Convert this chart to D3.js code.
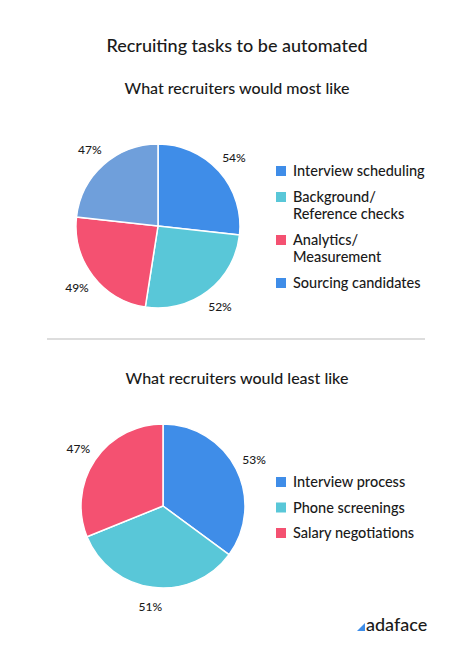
<!DOCTYPE html>
<html><head><meta charset="utf-8">
<script src="https://cdn.jsdelivr.net/npm/d3@7"></script>
<style>body{margin:0;background:#fff}text{font-family:Lato,"Open Sans",sans-serif;fill:#1a1a1a;font-weight:500}</style>
</head><body><svg id="c" width="474" height="649"></svg>
<script>
const topCats=["Interview scheduling","Background/\nReference checks","Analytics/\nMeasurement","Sourcing candidates"];
const topVals=[54,52,49,47];
const topColors=["#3f8de8","#59c7d8","#f45171","#6f9fdb"];
const topLegendColors=["#3f8de8","#59c7d8","#f45171","#3f8de8"];
const botCats=["Interview process","Phone screenings","Salary negotiations"];
const botVals=[53,51,47];
const botColors=["#3f8de8","#59c7d8","#f45171"];

const svg=d3.select("#c");
svg.append("text").attr("x",237).attr("y",52).attr("text-anchor","middle").attr("font-size",18).attr("font-weight",600).text("Recruiting tasks to be automated");
svg.append("text").attr("x",237).attr("y",94).attr("text-anchor","middle").attr("font-size",16).attr("font-weight",600).text("What recruiters would most like");
svg.append("text").attr("x",237).attr("y",384).attr("text-anchor","middle").attr("font-size",16).attr("font-weight",600).text("What recruiters would least like");
svg.append("line").attr("x1",47).attr("x2",425).attr("y1",339).attr("y2",339).attr("stroke","#bbb");

function pie(cx,cy,r,vals,colors,legColors,cats,legY,legGap){
  const g=svg.append("g").attr("transform",`translate(${cx},${cy})`);
  const arcs=d3.pie().sort(null)(vals);
  const arc=d3.arc().innerRadius(0).outerRadius(r);
  const lab=d3.arc().innerRadius(102).outerRadius(102);
  g.selectAll("path").data(arcs).join("path").attr("d",arc).attr("fill",(d,i)=>colors[i]).attr("stroke","#fff").attr("stroke-width",1.5);
  g.selectAll("text").data(arcs).join("text").attr("transform",d=>`translate(${lab.centroid(d)})`)
    .attr("text-anchor","middle").attr("dy","0.35em").attr("font-size",12).attr("font-weight",600).text(d=>d.data+"%");
  let y=legY;
  cats.forEach((c,i)=>{
    const lines=c.split("\n");
    svg.append("rect").attr("x",276).attr("y",y-5).attr("width",10).attr("height",10).attr("fill",legColors[i]);
    lines.forEach((l,j)=>svg.append("text").attr("x",293).attr("y",y+5+j*17).attr("font-size",14.5).text(l));
    y+=legGap+(lines.length-1)*17;
  });
}
pie(158,226,82,topVals,topColors,topLegendColors,topCats,171,26);
pie(163,506,82,botVals,botColors,botColors,botCats,482,25.5);
svg.append("path").attr("d","M357,631 L365,623 L365,631 Z").attr("fill","#3f8de8");
svg.append("text").attr("x",366).attr("y",631).attr("font-size",18).attr("font-weight",600).text("adaface");
</script></body></html>
